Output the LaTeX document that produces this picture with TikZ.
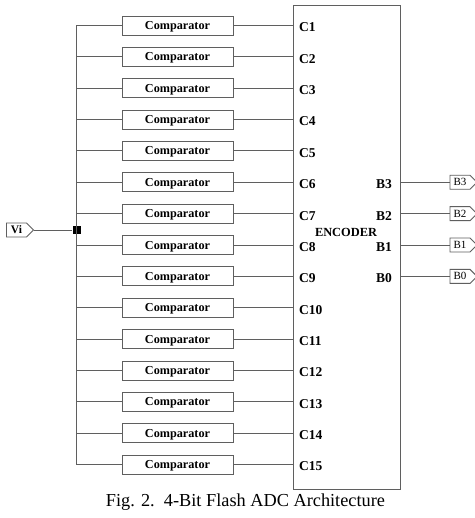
\documentclass[tikz,border=0pt]{standalone}
\usepackage{fontspec}
\setmainfont{Liberation Serif}
\usetikzlibrary{shapes.symbols}
\definecolor{ln}{RGB}{95,95,95}
\begin{document}
\begin{tikzpicture}[x=1pt,y=-1pt,
  wire/.style={draw=ln,line width=0.9pt},
  cmpbox/.style={draw=ln,line width=0.9pt,minimum width=111pt,minimum height=19pt,inner sep=0pt,text height=8.5pt,text depth=0.5pt,font=\fontsize{12.2}{13}\selectfont\bfseries},
  clab/.style={anchor=west,inner sep=0pt,font=\fontsize{13.5}{14}\selectfont\bfseries},
  blab/.style={anchor=east,inner sep=0pt,font=\fontsize{13.5}{14}\selectfont\bfseries},
  port/.style={signal,signal to=east,draw=ln,line width=0.9pt,minimum width=27pt,minimum height=14pt,inner sep=0.5pt,font=\fontsize{11}{12}\selectfont}]
\fill[white] (0,0) rectangle (474,518);
\useasboundingbox (0,0) rectangle (474,518);
% encoder
\node[draw=ln,line width=0.9pt,minimum width=107pt,minimum height=484pt,inner sep=0pt] (enc) at (346.5,247) {};
\node[font=\fontsize{12.4}{13}\selectfont\bfseries,inner sep=0pt] (enclab) at (346,232) {ENCODER};
% input
\node[port,font=\fontsize{11.5}{12}\selectfont\bfseries] (vi) at (16.5,230) {Vi};
\node[fill=black,minimum size=8pt,inner sep=0pt] (jn) at (76.5,230) {};
\draw[wire] (vi.east) -- (jn.west);
\coordinate (bt) at (76,25.5);
\coordinate (bb) at (76,464.5);
\draw[wire] (bt) -- (bb);
% comparators
\foreach \i in {1,...,15}{
  \pgfmathsetmacro{\yy}{25.5+(\i-1)*31.36}
  \coordinate (t\i) at (76,\yy);
  \node[cmpbox] (cmp\i) at (177.5,\yy) {Comparator};
  \coordinate (e\i) at (293,\yy);
  \draw[wire] (t\i) -- (cmp\i.west);
  \draw[wire] (cmp\i.east) -- (e\i);
  \node[clab] (c\i) at (299,\yy+2) {C\i};
}
% outputs
\foreach \b/\r in {3/6,2/7,1/8,0/9}{
  \pgfmathsetmacro{\yy}{25.5+(\r-1)*31.36}
  \node[blab] (bl\b) at (392,\yy+2) {B\b};
  \node[port] (bp\b) at (460,\yy) {B\b};
  \draw[wire] (enc.east |- bp\b.west) -- (bp\b.west);
}
% caption
\node[font=\fontsize{18.3}{20}\selectfont,anchor=base,inner sep=0pt] (cap) at (245.5,506) {Fig. 2.\ \ 4-Bit Flash ADC Architecture};
\end{tikzpicture}
\end{document}
